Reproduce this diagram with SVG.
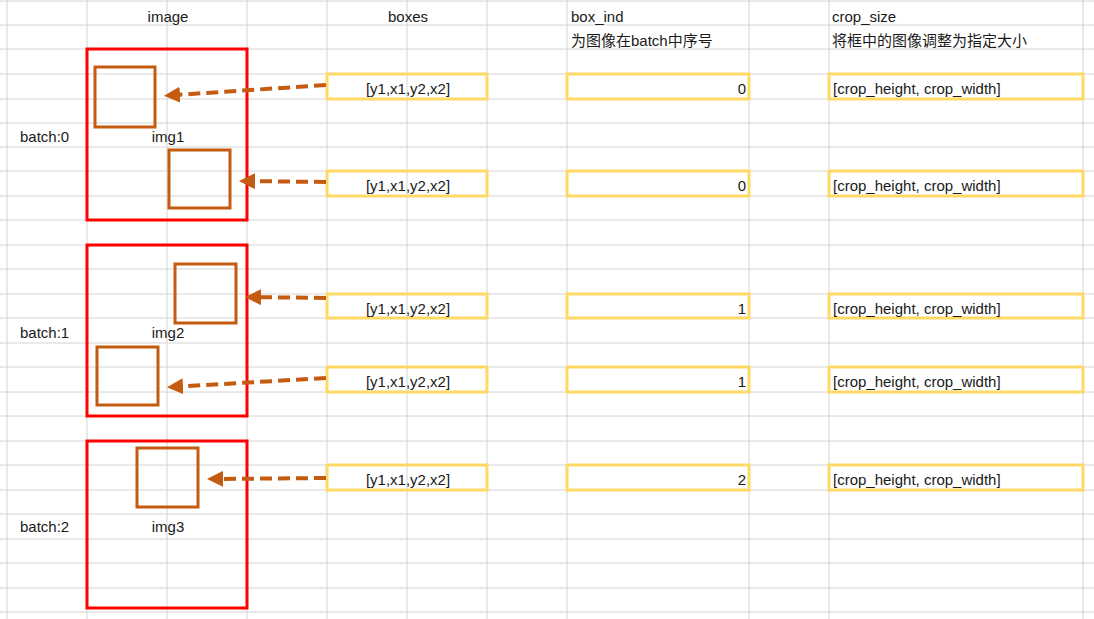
<svg xmlns="http://www.w3.org/2000/svg" width="1094" height="619" viewBox="0 0 1094 619">
<style>
.g{stroke:#d4d4d4;stroke-width:1}
.t{font-family:"Liberation Sans","Noto Sans CJK SC",sans-serif;font-size:15px;fill:#1a1a1a}
.c{text-anchor:middle}
.r{text-anchor:end}
.img{fill:none;stroke:#ff0000;stroke-width:3}
.sq{fill:none;stroke:#c55a11;stroke-width:3}
.y{fill:none;stroke:#ffd966;stroke-width:3}
.a{stroke:#c55a11;stroke-width:4;stroke-dasharray:12 6;fill:none;marker-end:url(#ah)}
</style>
<defs><marker id="ah" markerWidth="4" markerHeight="4" refX="3" refY="2" orient="auto"><path d="M0,0L4,2L0,4Z" fill="#c55a11"/></marker></defs>
<rect width="1094" height="619" fill="#fff"/>
<g id="grid">
<path class="g" d="M7,0V619M87,0V619M167,0V619M247,0V619M327,0V619M407,0V619M487,0V619M567,0V619M749,0V619M829,0V619M1083,0V619"/>
<path class="g" d="M0,1H1094M0,25H1094M0,49H1094M0,74H1094M0,99H1094M0,123H1094M0,147H1094M0,171H1094M0,196H1094M0,220H1094M0,245H1094M0,269H1094M0,294H1094M0,318H1094M0,343H1094M0,367H1094M0,392H1094M0,416H1094M0,441H1094M0,465H1094M0,490H1094M0,514H1094M0,539H1094M0,563H1094M0,588H1094M0,612H1094"/>
</g>
<g id="headers">
<text class="t c" x="168" y="22">image</text>
<text class="t c" x="408" y="22">boxes</text>
<text class="t" x="571" y="22">box_ind</text>
<text class="t" x="571" y="46">为图像在batch中序号</text>
<text class="t" x="832" y="22">crop_size</text>
<text class="t" x="832" y="46">将框中的图像调整为指定大小</text>
</g>
<g id="batch0"><rect class="img" x="87" y="49" width="160" height="171"/><text class="t" x="20" y="142">batch:0</text><text class="t c" x="168" y="142">img1</text>
<rect class="sq" x="95" y="67" width="60" height="60"/><rect class="sq" x="169" y="150" width="61" height="58"/></g>
<g id="batch1"><rect class="img" x="87" y="245" width="160" height="171"/><text class="t" x="20" y="338">batch:1</text><text class="t c" x="168" y="338">img2</text>
<rect class="sq" x="175" y="264" width="61" height="59"/><rect class="sq" x="97" y="347" width="61" height="58"/></g>
<g id="batch2"><rect class="img" x="87" y="441" width="160" height="167"/><text class="t" x="20" y="532">batch:2</text><text class="t c" x="168" y="532">img3</text>
<rect class="sq" x="137" y="448" width="61" height="59"/></g>
<g id="rows">
<g id="row1"><rect class="y" x="327" y="74" width="160" height="25"/><text class="t c" x="408" y="94">[y1,x1,y2,x2]</text><rect class="y" x="567" y="74" width="182" height="25"/><text class="t r" x="746" y="94">0</text><rect class="y" x="829" y="74" width="254" height="25"/><text class="t" x="833" y="94">[crop_height, crop_width]</text></g>
<g id="row2"><rect class="y" x="327" y="171" width="160" height="25"/><text class="t c" x="408" y="191">[y1,x1,y2,x2]</text><rect class="y" x="567" y="171" width="182" height="25"/><text class="t r" x="746" y="191">0</text><rect class="y" x="829" y="171" width="254" height="25"/><text class="t" x="833" y="191">[crop_height, crop_width]</text></g>
<g id="row3"><rect class="y" x="327" y="294" width="160" height="24"/><text class="t c" x="408" y="314">[y1,x1,y2,x2]</text><rect class="y" x="567" y="294" width="182" height="24"/><text class="t r" x="746" y="314">1</text><rect class="y" x="829" y="294" width="254" height="24"/><text class="t" x="833" y="314">[crop_height, crop_width]</text></g>
<g id="row4"><rect class="y" x="327" y="367" width="160" height="25"/><text class="t c" x="408" y="387">[y1,x1,y2,x2]</text><rect class="y" x="567" y="367" width="182" height="25"/><text class="t r" x="746" y="387">1</text><rect class="y" x="829" y="367" width="254" height="25"/><text class="t" x="833" y="387">[crop_height, crop_width]</text></g>
<g id="row5"><rect class="y" x="327" y="465" width="160" height="25"/><text class="t c" x="408" y="485">[y1,x1,y2,x2]</text><rect class="y" x="567" y="465" width="182" height="25"/><text class="t r" x="746" y="485">2</text><rect class="y" x="829" y="465" width="254" height="25"/><text class="t" x="833" y="485">[crop_height, crop_width]</text></g>
</g>
<g id="connectors">
<path class="a" d="M326,85L168,95.5"/>
<path class="a" d="M326,182L243,181"/>
<path class="a" d="M326,298L249,297"/>
<path class="a" d="M326,378L171,387"/>
<path class="a" d="M326,478L211,479"/>
</g>
</svg>
